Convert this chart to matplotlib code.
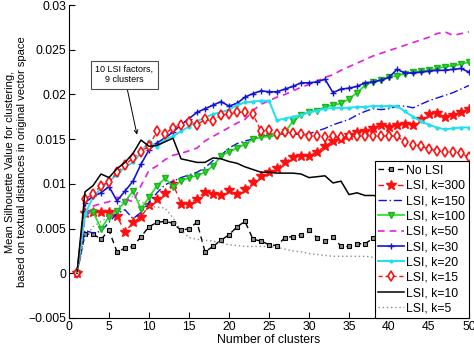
import matplotlib
matplotlib.use('Agg')
import matplotlib.pyplot as plt
import numpy as np

plt.rcParams['font.family'] = ['Liberation Sans', 'DejaVu Sans']

# number of clusters on the x axis
clusters = list(range(1, 51))

# mean silhouette values, one list per setting
no_lsi = [0, .0044, .0044, .0038, .0048, .0024, .0028, .0030, .0041, .0052,
          .0057, .0058, .0056, .0048, .0050, .0057, .0024, .0030, .0037, .0043,
          .0052, .0058, .0038, .0036, .0032, .0031, .0040, .0041, .0043, .0048,
          .0040, .0036, .0041, .0030, .0030, .0033, .0033, .0039, .0040, .0042,
          .0041, .0044, .0043, .0045, .0044, .0046, .0045, .0047, .0046, .0048]
lsi_300 = [0, .0067, .0068, .0068, .0068, .0064, .0046, .0057, .0063, .0076,
           .0083, .0090, .0100, .0078, .0078, .0083, .0091, .0089, .0087, .0093,
           .0089, .0094, .0102, .0109, .0113, .0118, .0124, .0130, .0131, .0131,
           .0136, .0142, .0148, .0150, .0155, .0158, .0159, .0163, .0166, .0164,
           .0166, .0167, .0166, .0172, .0178, .0179, .0175, .0177, .0180, .0184]
lsi_150 = [0, .0048, .0045, .0047, .0057, .0067, .0071, .0061, .0068, .0079,
           .0090, .0099, .0103, .0107, .0110, .0113, .0118, .0126, .0132, .0140,
           .0145, .0148, .0150, .0153, .0154, .0155, .0156, .0156, .0155, .0156,
           .0159, .0162, .0166, .0169, .0172, .0177, .0181, .0184, .0183, .0184,
           .0187, .0187, .0185, .0189, .0193, .0196, .0199, .0202, .0206, .0210]
lsi_100 = [0, .0066, .0069, .0050, .0063, .0070, .0080, .0092, .0072, .0085,
           .0098, .0106, .0097, .0103, .0107, .0109, .0113, .0120, .0131, .0136,
           .0140, .0144, .0150, .0152, .0153, .0154, .0158, .0170, .0177, .0180,
           .0182, .0186, .0188, .0190, .0195, .0202, .0210, .0214, .0216, .0219,
           .0221, .0223, .0225, .0226, .0227, .0229, .0231, .0232, .0234, .0236]
lsi_50 = [0, .0062, .0075, .0078, .0080, .0085, .0083, .0080, .0098, .0115,
          .0120, .0127, .0132, .0134, .0137, .0140, .0148, .0153, .0158, .0163,
          .0168, .0172, .0182, .0189, .0193, .0197, .0200, .0204, .0208, .0211,
          .0215, .0219, .0222, .0227, .0231, .0235, .0239, .0243, .0246, .0249,
          .0252, .0255, .0258, .0261, .0264, .0268, .0270, .0266, .0268, .0270]
lsi_30 = [0, .0079, .0086, .0090, .0097, .0081, .0092, .0103, .0122, .0138,
          .0146, .0151, .0158, .0166, .0173, .0180, .0184, .0188, .0192, .0187,
          .0190, .0197, .0201, .0204, .0203, .0203, .0206, .0209, .0213, .0213,
          .0214, .0217, .0202, .0206, .0207, .0209, .0213, .0214, .0216, .0219,
          .0228, .0224, .0224, .0225, .0226, .0227, .0227, .0228, .0229, .0225]
lsi_20 = [0, .0066, .0085, .0095, .0103, .0110, .0119, .0124, .0135, .0148,
          .0141, .0150, .0153, .0159, .0164, .0170, .0174, .0178, .0180, .0183,
          .0188, .0191, .0192, .0193, .0193, .0171, .0173, .0175, .0177, .0180,
          .0182, .0184, .0185, .0185, .0185, .0186, .0186, .0187, .0187, .0187,
          .0187, .0181, .0175, .0170, .0166, .0163, .0161, .0162, .0163, .0163]
lsi_15 = [0, .0083, .0089, .0098, .0102, .0113, .0121, .0129, .0136, .0142,
          .0159, .0156, .0163, .0166, .0169, .0166, .0172, .0170, .0177, .0178,
          .0180, .0180, .0178, .0159, .0160, .0156, .0158, .0157, .0156, .0153,
          .0153, .0152, .0153, .0152, .0153, .0153, .0153, .0153, .0153, .0154,
          .0153, .0147, .0144, .0142, .0139, .0137, .0136, .0136, .0134, .0130]
lsi_10 = [0, .0091, .0098, .0111, .0107, .0117, .0124, .0134, .0149, .0142,
          .0143, .0147, .0151, .0128, .0126, .0124, .0124, .0129, .0128, .0125,
          .0123, .0119, .0116, .0113, .0113, .0112, .0112, .0112, .0111, .0107,
          .0108, .0109, .0101, .0103, .0088, .0090, .0087, .0087, .0086, .0085,
          .0085, .0084, .0083, .0083, .0082, .0081, .0081, .0080, .0080, .0079]
lsi_5 = [0, .0040, .0052, .0058, .0063, .0072, .0083, .0086, .0080, .0075,
         .0074, .0073, .0062, .0048, .0040, .0038, .0037, .0036, .0034, .0032,
         .0031, .0030, .0030, .0030, .0030, .0029, .0027, .0025, .0024, .0022,
         .0021, .0020, .0019, .0019, .0019, .0019, .0019, .0018, .0018, .0018,
         .0018, .0018, .0018, .0017, .0017, .0017, .0017, .0017, .0017, .0017]

labels = ['No LSI', 'LSI, k=300', 'LSI, k=150', 'LSI, k=100', 'LSI, k=50',
          'LSI, k=30', 'LSI, k=20', 'LSI, k=15', 'LSI, k=10', 'LSI, k=5']
xticks = [0, 5, 10, 15, 20, 25, 30, 35, 40, 45, 50]
yticks = [-0.005, 0, 0.005, 0.01, 0.015, 0.02, 0.025, 0.03]
ytick_labels = ['\u22120.005', '0', '0.005', '0.01', '0.015', '0.02', '0.025', '0.03']

fig = plt.figure(figsize=(4.74, 3.46), dpi=100)
ax = fig.add_axes([69 / 474, 28 / 346, 400 / 474, 313 / 346])

# matlab-ish line styles
ax.plot(clusters, no_lsi, color='k', ls=(0, (4, 3)), lw=1, marker='s', ms=3.5,
        mfc='0.55', mec='k', mew=0.8, label=labels[0])
ax.plot(clusters, lsi_300, color='#ff1010', ls=(0, (4, 3)), lw=1, marker='*', ms=7.5,
        mfc='#ff1010', mec='#ff1010', label=labels[1])
ax.plot(clusters, lsi_150, color='#1010e0', ls=(0, (6, 2, 1, 2)), lw=1, label=labels[2])
ax.plot(clusters, lsi_100, color='#20e020', ls='-', lw=1.2, marker='v', ms=5,
        mfc='#20e020', mec='#20b020', label=labels[3])
ax.plot(clusters, lsi_50, color='#e020e0', ls=(0, (4, 3)), lw=1.2, label=labels[4])
ax.plot(clusters, lsi_30, color='#1515d0', ls='-', lw=1.2, marker='+', ms=5,
        mew=1, label=labels[5])
ax.plot(clusters, lsi_20, color='#20e0f0', ls='-', lw=1.4, marker='.', ms=4,
        label=labels[6])
ax.plot(clusters, lsi_15, color='#ff1010', ls=(0, (3, 2)), lw=1, marker='d', ms=5,
        mfc='white', mec='#ff1010', mew=1.2, label=labels[7])
ax.plot(clusters, lsi_10, color='k', ls='-', lw=1.1, label=labels[8])
ax.plot(clusters, lsi_5, color='0.55', ls=(0, (1, 2)), lw=1, label=labels[9])

ax.set_xlim(0, 50)
ax.set_ylim(-0.005, 0.03)
ax.set_xticks(xticks)
ax.set_yticks(yticks)
ax.set_yticklabels(ytick_labels)
ax.tick_params(direction='in', labelsize=8.8, length=4, pad=2)
ax.spines['top'].set_visible(False)
ax.spines['right'].set_visible(False)

ax.set_xlabel('Number of clusters', fontsize=8.8, labelpad=1)
ax.set_ylabel('Mean Silhouette Value for clustering,\n'
              'based on textual distances in original vector space',
              fontsize=8, linespacing=1.3)
ax.yaxis.set_label_coords(-0.105, 0.5)

ax.annotate('10 LSI factors,\n9 clusters', xy=(8.5, 0.0155), xytext=(6.9, 0.0222),
            fontsize=6.5, ha='center', va='center',
            bbox=dict(boxstyle='square,pad=0.5', fc='white', ec='0.3', lw=0.8),
            arrowprops=dict(arrowstyle='->', color='k', lw=0.7, shrinkA=0, shrinkB=0))

leg = ax.legend(loc='lower right', fontsize=8.8, borderaxespad=0, fancybox=False,
                framealpha=1, edgecolor='k', handlelength=2.1, handletextpad=0.2,
                labelspacing=0.27, borderpad=0.3)
leg.get_frame().set_linewidth(0.8)

fig.savefig('out.png', dpi=100)
